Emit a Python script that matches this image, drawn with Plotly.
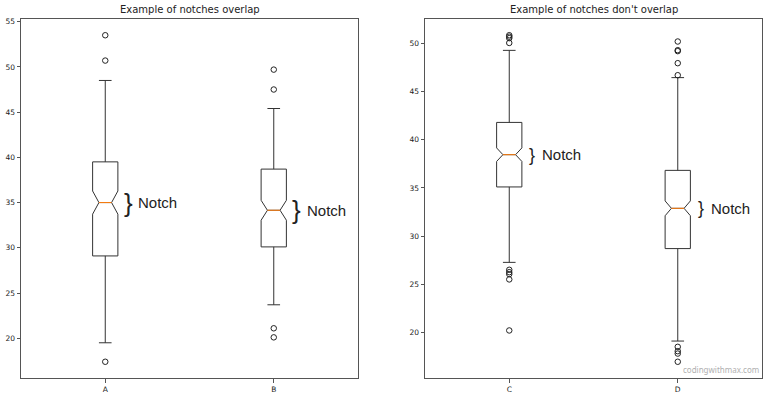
import plotly.graph_objects as go

# ---------------- data ----------------
left_categories = ["A", "B"]
left_q1 = [29.1, 30.1]
left_median = [35.0, 34.15]
left_q3 = [39.5, 38.7]
left_lowerfence = [19.5, 23.7]
left_upperfence = [48.5, 45.4]
left_notchspan = [1.28, 1.1]
left_outliers = [[53.5, 50.7, 17.4], [49.7, 47.5, 21.1, 20.1]]

right_categories = ["C", "D"]
right_q1 = [35.1, 28.7]
right_median = [38.45, 32.88]
right_q3 = [41.8, 36.82]
right_lowerfence = [27.27, 19.1]
right_upperfence = [49.28, 46.45]
right_notchspan = [0.7, 0.77]
right_outliers = [
    [50.85, 50.7, 50.55, 50.05, 26.5, 26.25, 26.05, 25.5, 20.2],
    [50.2, 49.3, 49.2, 47.95, 46.7, 18.5, 18.05, 17.8, 16.95],
]

titles = ["Example of notches overlap", "Example of notches don't overlap"]
left_yticks = [20, 25, 30, 35, 40, 45, 50, 55]
right_yticks = [20, 25, 30, 35, 40, 45, 50]
note_text = "Notch"
watermark = "codingwithmax.com"

# ---------------- layout constants ----------------
W, H = 768, 396
BOX_W = 0.15
LINE_C = "#333333"
FRAME_C = "#555555"
TICK_FONT = dict(family="DejaVu Sans", size=7.5, color="#222222")

fig = go.Figure()

panels = [
    dict(cats=left_categories, q1=left_q1, med=left_median, q3=left_q3,
         lo=left_lowerfence, hi=left_upperfence, ns=left_notchspan,
         out=left_outliers, xa="x", ya="y", yt=left_yticks, brace=26),
    dict(cats=right_categories, q1=right_q1, med=right_median, q3=right_q3,
         lo=right_lowerfence, hi=right_upperfence, ns=right_notchspan,
         out=right_outliers, xa="x2", ya="y2", yt=right_yticks, brace=18),
]

annotations = []
yranges = []
for p in panels:
    allv = []
    for i, cat in enumerate(p["cats"]):
        pos = i + 1
        fig.add_trace(go.Box(
            x=[pos], q1=[p["q1"][i]], median=[p["med"][i]], q3=[p["q3"][i]],
            lowerfence=[p["lo"][i]], upperfence=[p["hi"][i]],
            notchspan=[p["ns"][i]], notched=True, notchwidth=0.25,
            width=BOX_W, whiskerwidth=0.5, boxpoints=False,
            line=dict(color=LINE_C, width=1), fillcolor="rgba(255,255,255,0)",
            xaxis=p["xa"], yaxis=p["ya"], showlegend=False, hoverinfo="skip",
        ))
        # orange median line
        fig.add_trace(go.Scatter(
            x=[pos - BOX_W / 4, pos + BOX_W / 4], y=[p["med"][i]] * 2,
            mode="lines", line=dict(color="#ff7f0e", width=1),
            xaxis=p["xa"], yaxis=p["ya"], showlegend=False, hoverinfo="skip",
        ))
        # outliers
        fig.add_trace(go.Scatter(
            x=[pos] * len(p["out"][i]), y=p["out"][i], mode="markers",
            marker=dict(symbol="circle-open", size=5.5, color="#222222",
                        line=dict(width=1, color="#222222")),
            xaxis=p["xa"], yaxis=p["ya"], showlegend=False, hoverinfo="skip",
        ))
        allv += p["out"][i] + [p["lo"][i], p["hi"][i]]
        # brace + label
        annotations.append(dict(
            x=pos, y=p["med"][i], xref=p["xa"], yref=p["ya"], text="}",
            showarrow=False, xanchor="center", yanchor="middle",
            xshift=23, yshift=0,
            font=dict(family="Liberation Sans", size=p["brace"], color="#222222"),
        ))
        annotations.append(dict(
            x=pos, y=p["med"][i], xref=p["xa"], yref=p["ya"], text=note_text,
            showarrow=False, xanchor="left", yanchor="middle",
            xshift=31, yshift=0,
            font=dict(family="Liberation Sans", size=15, color="#222222"),
        ))
    mn, mx = min(allv), max(allv)
    pad = (mx - mn) * 0.05
    yranges.append([mn - pad, mx + pad])

x_domains = [[21 / W, 358 / W], [425 / W, 762 / W]]
y_domain = [1 - 378 / H, 1 - 17 / H]

axis_common = dict(showgrid=False, zeroline=False, showline=True, mirror=True,
                   linecolor=FRAME_C, linewidth=1, ticks="outside", ticklen=3.5,
                   tickcolor=FRAME_C, tickwidth=1, tickfont=TICK_FONT)

fig.update_layout(
    width=W, height=H, margin=dict(l=0, r=0, t=0, b=0),
    paper_bgcolor="white", plot_bgcolor="white", hovermode=False,
    xaxis=dict(domain=x_domains[0], range=[0.5, 2.5], tickvals=[1, 2],
               ticktext=left_categories, anchor="y", **axis_common),
    yaxis=dict(domain=y_domain, range=yranges[0], tickvals=left_yticks,
               anchor="x", **axis_common),
    xaxis2=dict(domain=x_domains[1], range=[0.5, 2.5], tickvals=[1, 2],
                ticktext=right_categories, anchor="y2", **axis_common),
    yaxis2=dict(domain=y_domain, range=yranges[1], tickvals=right_yticks,
                anchor="x2", **axis_common),
)

for k, t in enumerate(titles):
    annotations.append(dict(
        x=(x_domains[k][0] + x_domains[k][1]) / 2, y=1 - 8 / H,
        xref="paper", yref="paper", text=t, showarrow=False,
        xanchor="center", yanchor="middle",
        font=dict(family="DejaVu Sans", size=10, color="#222222"),
    ))

annotations.append(dict(
    x=x_domains[1][1], y=y_domain[0], xref="paper", yref="paper",
    text=watermark, showarrow=False, xanchor="right", yanchor="bottom",
    xshift=-1, yshift=1,
    font=dict(family="Noto Sans", size=8, color="#b0b0b0"),
))

fig.update_layout(annotations=annotations)
fig.write_html("out.html", config={"displayModeBar": False, "staticPlot": True},
               post_script="document.body.style.margin='0';document.body.style.overflow='hidden';")
